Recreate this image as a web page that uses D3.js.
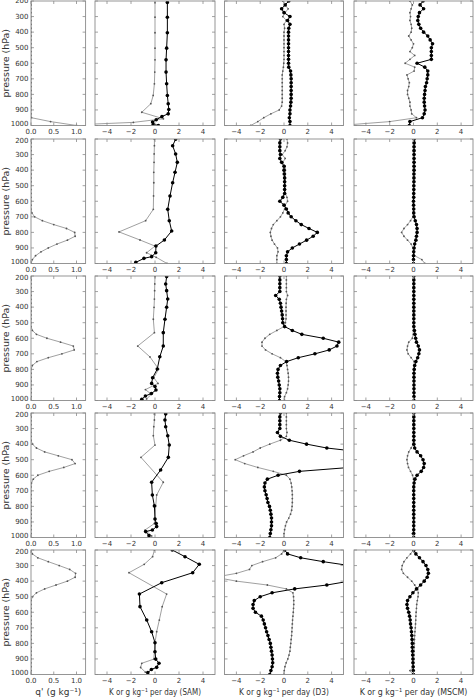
<!DOCTYPE html>
<html><head><meta charset="utf-8">
<script src="https://cdn.jsdelivr.net/npm/d3@7"></script>
<style>body{margin:0;background:#fff}svg{display:block}</style>
</head><body>
<svg id="c" width="474" height="697"></svg>
<script>
// ---------------- DATA ----------------
const P25 = [200,225,250,275,300,325,350,375,400,425,450,475,500,525,550,575,600,625,650,675,700,725,750,775,800,825,850,875,900,925,950,975,1000];
const pressureTicks = [200,300,400,500,600,700,800,900,1000];
const qTicks = [0.0,0.5,1.0];
const tendTicks = [-4,-2,0,2,4];
const colTitles = ["q' (g kg\u207B\u00B9)", "K or g kg\u207B\u00B9 per day (SAM)", "K or g kg\u207B\u00B9 per day (D3)", "K or g kg\u207B\u00B9 per day (MSCM)"];

// q' profiles (col 1), on P25
const qPrime1 = [0,0,0,0,0,0,0,0,0,0,0,0,0,0,0,0,0,0,0,0,0,0,0,0,0,0,0,0,0,0,0.01,0.43,1.0];
const qPrime2 = [0,0,0,0,0,0,0,0,0,0,0,0,0,0,0,0,0,0,0,0.02,0.08,0.25,0.5,0.78,0.96,0.97,0.8,0.57,0.38,0.22,0.1,0.03,0];
const qPrime3 = [0,0,0,0,0,0,0,0,0,0,0,0,0,0,0.03,0.12,0.35,0.65,0.93,0.95,0.68,0.38,0.13,0.03,0,0,0,0,0,0,0,0,0];
const qPrime4 = [0,0,0,0,0,0,0,0,0.03,0.12,0.3,0.6,0.9,0.97,0.72,0.4,0.15,0.05,0.01,0,0,0,0,0,0,0,0,0,0,0,0,0,0];
const qPrime5 = [0,0.03,0.15,0.38,0.62,0.85,0.98,0.97,0.8,0.55,0.3,0.12,0.03,0,0,0,0,0,0,0,0,0,0,0,0,0,0,0,0,0,0,0,0];

// SAM (col 2): [pressure, value] pairs
const samHeat1 = [[210,1.03],[304,1.03],[404,1.03],[503,0.97],[578,0.92],[657,0.92],[732,0.97],[807,1.03],[860,1.1],[897,1.15],[925,1.1],[942,0.58],[963,0.1],[978,-0.2],[992,-0.14],[1000,0.28]];
const samMoist1 = [[210,0],[304,0],[404,0],[503,0],[578,0],[657,-0.02],[732,-0.05],[807,-0.15],[860,-0.35],[915,-1.1],[957,0.7],[980,-1.8],[1000,-8]];
const samHeat2 = [[202,1.72],[243,1.47],[296,1.72],[350,1.86],[414,1.67],[481,1.47],[566,1.25],[652,1.06],[725,1.19],[791,1.39],[849,0.78],[888,0.08],[931,0.06],[956,-0.28],[967,-0.92],[993,-1.6]];
const samMoist2 = [[202,-0.05],[243,-0.05],[296,-0.07],[350,-0.08],[414,-0.1],[481,-0.1],[566,-0.12],[652,-0.14],[725,-0.78],[797,-3.0],[849,-1.25],[888,0.0],[931,-0.7],[960,0.1],[1000,1.0]];
const samHeat3 = [[204,0.97],[251,0.89],[294,0.97],[348,1.06],[401,0.97],[478,0.83],[564,0.69],[650,0.69],[719,0.4],[798,0.19],[854,-0.2],[890,-0.28],[910,0.0],[933,0.08],[955,-0.3],[971,-0.8],[992,-1.1]];
const samMoist3 = [[204,0],[251,-0.02],[294,-0.03],[348,-0.05],[401,-0.08],[478,-0.14],[564,-0.05],[650,-1.44],[720,-0.42],[798,0.3],[854,-0.1],[890,0.25],[930,-0.8],[960,-0.3],[990,-0.7]];
const samHeat4 = [[206,0.89],[245,0.83],[288,0.89],[346,1.06],[406,1.19],[485,1.11],[566,0.47],[645,-0.28],[727,-0.22],[797,-0.05],[881,0.0],[910,0.1],[930,0.14],[952,-0.22],[962,-0.78],[988,-0.5]];
const samMoist4 = [[206,-0.05],[245,-0.05],[288,-0.1],[346,-0.14],[406,0.0],[485,-1.17],[645,0.69],[727,0.14],[797,0.06],[881,0.0],[910,-0.05],[952,-0.83],[990,-0.28]];
const samHeat5 = [[200,1.44],[243,2.5],[292,3.69],[346,3.14],[410,0.56],[483,-1.3],[564,-1.25],[650,-0.69],[725,-0.28],[796,0.0],[854,0.0],[901,0.06],[928,0.33],[954,0.14],[968,-0.3],[988,-0.6]];
const samMoist5 = [[200,-0.05],[243,-0.2],[292,-0.9],[346,-2.17],[483,0.97],[564,0.6],[650,0.36],[725,0.14],[796,0.0],[854,-0.05],[901,-0.1],[928,-1.1],[955,-1.2],[985,-0.8]];

// D3 (col 3), on P25
const d3Heat1 = [0.4,0.1,-0.2,0.0,0.5,0.3,0.5,0.4,0.38,0.38,0.38,0.38,0.38,0.38,0.38,0.38,0.38,0.4,0.55,0.58,0.6,0.6,0.6,0.6,0.6,0.6,0.58,0.55,0.5,0.5,0.45,0.5,0.5];
const d3Moist1 = [-0.1,0.1,0.35,0.1,-0.1,0.2,0.0,0.05,0,0,0,0,0,0,0,0,-0.02,-0.05,-0.1,-0.15,-0.15,-0.15,-0.15,-0.15,-0.15,-0.15,-0.15,-0.2,-0.4,-1.1,-1.7,-2.2,-2.8];
const d3Heat2 = [-0.3,-0.35,-0.35,-0.35,-0.3,-0.35,-0.2,0.0,0.0,0.02,0.05,0.05,0.05,0.05,0.05,-0.1,-0.35,0.0,0.2,0.35,0.6,1.0,1.45,2.1,2.8,2.45,1.9,1.3,0.7,0.3,0.2,0.2,0.2];
const d3Moist2 = [0.25,0.3,0.25,0.1,-0.15,0.1,-0.1,0.1,0.12,0.12,0.12,0.12,0.12,0.12,0.12,0.25,0.3,0.1,0.05,-0.1,-0.3,-0.6,-0.9,-1.05,-1.15,-1.1,-1.0,-0.8,-0.55,-0.5,-0.6,-0.6,-0.6];
const d3Heat3 = [-0.35,-0.35,-0.35,-0.35,-0.35,-0.7,-0.4,-0.3,-0.25,-0.2,-0.15,-0.12,-0.1,0.05,0.7,1.5,3.3,4.6,4.45,3.8,2.6,1.2,0.22,-0.3,-0.5,-0.55,-0.52,-0.45,-0.4,-0.35,-0.35,-0.38,-0.38];
const d3Moist3 = [0.2,0.2,0.2,0.2,0.2,0.3,0.2,0.18,0.17,0.17,0.17,0.17,0.12,0.0,-0.6,-1.2,-1.6,-1.85,-1.85,-1.55,-1.0,-0.3,0.15,0.25,0.3,0.35,0.38,0.38,0.35,0.3,0.2,0.05,0.05];
const d3Heat4 = [-0.3,-0.35,-0.35,-0.35,-0.35,-0.55,-0.3,0.45,1.9,3.6,6.5,9,10,9,5.5,1.3,-0.5,-1.4,-1.6,-1.65,-1.6,-1.5,-1.42,-1.35,-1.22,-1.15,-1.1,-1.05,-1.05,-1.05,-1.1,-1.15,-1.2];
const d3Moist4 = [0.2,0.2,0.2,0.2,0.2,0.25,0.2,-0.3,-1.2,-2.0,-2.6,-3.4,-4.1,-3.3,-2.2,-0.9,0.2,0.5,0.6,0.65,0.68,0.7,0.7,0.7,0.68,0.64,0.55,0.4,0.22,0.12,0.05,0.0,0.0];
const d3Heat5 = [0.05,0.3,1.4,3.3,5.5,8,9,8,5.5,3.6,0.9,-1.0,-2.0,-2.5,-2.6,-2.6,-2.4,-1.9,-1.75,-1.65,-1.55,-1.46,-1.35,-1.25,-1.15,-1.1,-1.05,-1.0,-0.97,-0.95,-1.0,-1.1,-1.2];
const d3Moist5 = [0.0,-0.2,-0.7,-1.8,-2.7,-2.9,-4.0,-5.8,-4.0,-1.4,0.2,0.75,0.8,0.82,0.82,0.8,0.78,0.75,0.72,0.7,0.68,0.66,0.64,0.6,0.57,0.53,0.5,0.42,0.32,0.18,0.08,0.02,0.0];

// MSCM (col 4), on P25
const mscmHeat1 = [0.8,0.55,0.85,0.5,0.4,0.36,0.45,0.6,0.85,1.2,1.4,1.6,1.5,1.5,1.5,1.5,0.3,0.95,1.2,1.2,1.15,1.1,1.0,0.97,0.93,0.9,0.9,0.93,0.97,0.9,0.75,-0.3,-0.35];
const mscmMoist1 = [-0.3,-0.1,-0.2,-0.3,-0.25,-0.3,-0.2,-0.15,-0.2,-0.4,-0.2,0.0,-0.1,-0.3,0.1,-0.3,-0.7,0.1,0.05,-0.55,-0.45,-0.35,-0.4,-0.5,-0.5,-0.4,-0.3,-0.3,-0.2,-0.15,0.25,-2.0,-6.2];
const mscmHeat2 = [0.06,0.06,0.05,0.05,0.05,0.05,0.05,0.05,0.05,0.04,0.04,0.04,0.03,0.03,0.02,0.02,0.0,0.01,0.02,0.02,0.05,0.15,0.25,0.3,0.3,0.25,0.2,0.1,0.05,0.02,0.0,0.0,0.0];
const mscmMoist2 = [-0.02,-0.02,-0.02,-0.02,-0.02,-0.02,-0.02,-0.02,-0.02,-0.02,-0.02,-0.02,-0.02,-0.02,-0.02,-0.02,-0.02,-0.02,-0.02,-0.02,-0.05,-0.25,-0.5,-0.8,-1.0,-0.8,-0.5,-0.2,-0.05,0.02,0.1,0.7,0.95];
const mscmHeat3 = [0.03,0.03,0.03,0.03,0.03,0.03,0.03,0.03,0.03,0.03,0.03,0.03,0.03,0.03,0.08,0.12,0.18,0.25,0.4,0.5,0.45,0.35,0.2,0.1,0.06,0.04,0.04,0.04,0.04,0.04,0.04,0.04,0.04];
const mscmMoist3 = [-0.02,-0.02,-0.02,-0.02,-0.02,-0.02,-0.02,-0.02,-0.02,-0.02,-0.02,-0.02,-0.02,-0.02,-0.02,-0.02,-0.1,-0.4,-0.5,-0.55,-0.45,-0.2,0.05,0.05,0.0,0.0,0.0,0.0,0.0,0.0,0.0,0.0,0.0];
const mscmHeat4 = [0.03,0.03,0.03,0.03,0.03,0.03,0.03,0.03,0.03,0.1,0.3,0.6,0.8,0.9,0.85,0.65,0.3,0.12,0.05,0.02,0.02,0.02,0.02,0.02,0.02,0.02,0.02,0.02,0.02,0.02,0.02,0.02,0.02];
const mscmMoist4 = [-0.02,-0.02,-0.02,-0.02,-0.02,-0.02,-0.02,-0.02,-0.02,-0.2,-0.4,-0.5,-0.55,-0.5,-0.42,-0.25,-0.08,0.0,0.02,0.02,0.02,0.02,0.02,0.02,0.02,0.02,0.02,0.02,0.02,0.02,0.02,-0.1,0.0];
const mscmHeat5 = [0.03,0.2,0.5,0.8,1.05,1.2,1.25,1.15,0.9,0.6,0.25,-0.05,-0.3,-0.5,-0.55,-0.5,-0.4,-0.33,-0.28,-0.25,-0.2,-0.17,-0.14,-0.12,-0.1,-0.1,-0.08,-0.07,-0.05,-0.05,-0.03,-0.02,0.0];
const mscmMoist5 = [0.0,-0.25,-0.55,-0.8,-0.95,-1.0,-0.85,-0.5,-0.15,0.1,0.35,0.4,0.38,0.32,0.27,0.25,0.22,0.2,0.19,0.17,0.15,0.12,0.1,0.08,0.07,0.06,0.05,0.04,0.03,0.02,0.0,-0.3,-0.05];

// ---------------- DRAW ----------------
const svg = d3.select("#c");
const font = "DejaVu Sans, Liberation Sans, sans-serif";
const rowTop = [1, 139, 276, 413, 550];
const rowH = 124.5;
const cols = [
  {x0:31, x1:85.6, dom:[0,1.2], ticks:qTicks, fmt:d3.format(".1f"), titleW:46},
  {x0:95, x1:215, dom:[-5,5], ticks:tendTicks, fmt:d3.format("d"), titleW:92},
  {x0:224.5, x1:343.5, dom:[-5,5], ticks:tendTicks, fmt:d3.format("d"), titleW:90},
  {x0:354, x1:473, dom:[-5,5], ticks:tendTicks, fmt:d3.format("d"), titleW:108}
];
const onP25 = v => v.map((d,i)=>[P25[i], d]);
const qRows = [qPrime1,qPrime2,qPrime3,qPrime4,qPrime5];
const samRows = [[samHeat1,samMoist1],[samHeat2,samMoist2],[samHeat3,samMoist3],[samHeat4,samMoist4],[samHeat5,samMoist5]];
const d3Rows = [[d3Heat1,d3Moist1],[d3Heat2,d3Moist2],[d3Heat3,d3Moist3],[d3Heat4,d3Moist4],[d3Heat5,d3Moist5]];
const mscmRows = [[mscmHeat1,mscmMoist1],[mscmHeat2,mscmMoist2],[mscmHeat3,mscmMoist3],[mscmHeat4,mscmMoist4],[mscmHeat5,mscmMoist5]];

const frameCol = "#8a8a8a", textCol = "#333";
let clipId = 0;

function panel(r, c, seriesList) {
  const col = cols[c];
  const y = d3.scaleLinear().domain([200,1000]).range([rowTop[r], rowTop[r]+rowH]);
  const x = d3.scaleLinear().domain(col.dom).range([col.x0, col.x1]);
  const g = svg.append("g");
  const id = "clip" + (clipId++);
  svg.append("clipPath").attr("id", id).append("rect")
    .attr("x", col.x0).attr("y", rowTop[r]).attr("width", col.x1-col.x0).attr("height", rowH);
  const data = g.append("g").attr("clip-path", `url(#${id})`);
  const line = d3.line().x(d=>x(d[1])).y(d=>y(d[0]));
  seriesList.forEach(s => {
    data.append("path").datum(s.pts).attr("d", line)
      .attr("fill","none").attr("stroke", s.stroke).attr("stroke-width", s.w).attr("stroke-linejoin","round");
    data.selectAll(null).data(s.pts).enter().append("circle")
      .attr("cx", d=>x(d[1])).attr("cy", d=>y(d[0])).attr("r", s.r).attr("fill", s.fill);
  });
  g.append("rect").attr("x", col.x0).attr("y", rowTop[r]).attr("width", col.x1-col.x0).attr("height", rowH)
    .attr("fill","none").attr("stroke", frameCol).attr("stroke-width", 0.9);
  const tl = 3;
  col.ticks.forEach(t => {
    g.append("line").attr("x1",x(t)).attr("x2",x(t)).attr("y1",rowTop[r]).attr("y2",rowTop[r]+tl).attr("stroke",frameCol).attr("stroke-width",0.8);
    g.append("line").attr("x1",x(t)).attr("x2",x(t)).attr("y1",rowTop[r]+rowH).attr("y2",rowTop[r]+rowH-tl).attr("stroke",frameCol).attr("stroke-width",0.8);
    g.append("text").attr("x",x(t)).attr("y",rowTop[r]+rowH+8.5).attr("text-anchor","middle")
      .attr("font-family",font).attr("font-size",7).attr("fill",textCol).text(col.fmt(t));
  });
  pressureTicks.forEach(p => {
    g.append("line").attr("x1",col.x0).attr("x2",col.x0+tl).attr("y1",y(p)).attr("y2",y(p)).attr("stroke",frameCol).attr("stroke-width",0.8);
    g.append("line").attr("x1",col.x1).attr("x2",col.x1-tl).attr("y1",y(p)).attr("y2",y(p)).attr("stroke",frameCol).attr("stroke-width",0.8);
    if (c === 0) {
      const dy = p === 1000 ? -1.5 : (p === 200 && r > 0 ? 1.5 : 0);
      g.append("text").attr("x",col.x0-2.5).attr("y",y(p)+dy).attr("dy","0.33em").attr("text-anchor","end")
        .attr("font-family",font).attr("font-size",7).attr("fill",textCol).text(p);
    }
  });
  if (c === 0) {
    const cy = rowTop[r] + rowH/2;
    g.append("text").attr("transform",`translate(8.5,${cy}) rotate(-90)`).attr("text-anchor","middle")
      .attr("font-family",font).attr("font-size",9.5).attr("fill",textCol).text("pressure (hPa)");
  }
}

const thin = pts => ({pts, stroke:"#777", w:0.7, r:0.9, fill:"#555"});
const thick = pts => ({pts, stroke:"#000", w:1.0, r:1.8, fill:"#000"});

for (let r = 0; r < 5; r++) {
  panel(r, 0, [thin(onP25(qRows[r]))]);
  panel(r, 1, [thin(samRows[r][1]), thick(samRows[r][0])]);
  panel(r, 2, [thin(onP25(d3Rows[r][1])), thick(onP25(d3Rows[r][0]))]);
  panel(r, 3, [thin(onP25(mscmRows[r][1])), thick(onP25(mscmRows[r][0]))]);
}
cols.forEach((col, i) => {
  const t = svg.append("text").attr("text-anchor","middle")
    .attr("font-family",font).attr("font-size",9).attr("fill",textCol).text(colTitles[i]);
  const natural = t.node().getComputedTextLength();
  const sx = Math.min(1, col.titleW / natural);
  t.attr("transform", `translate(${(col.x0+col.x1)/2},694.5) scale(${sx},1)`);
});
</script>
</body></html>
